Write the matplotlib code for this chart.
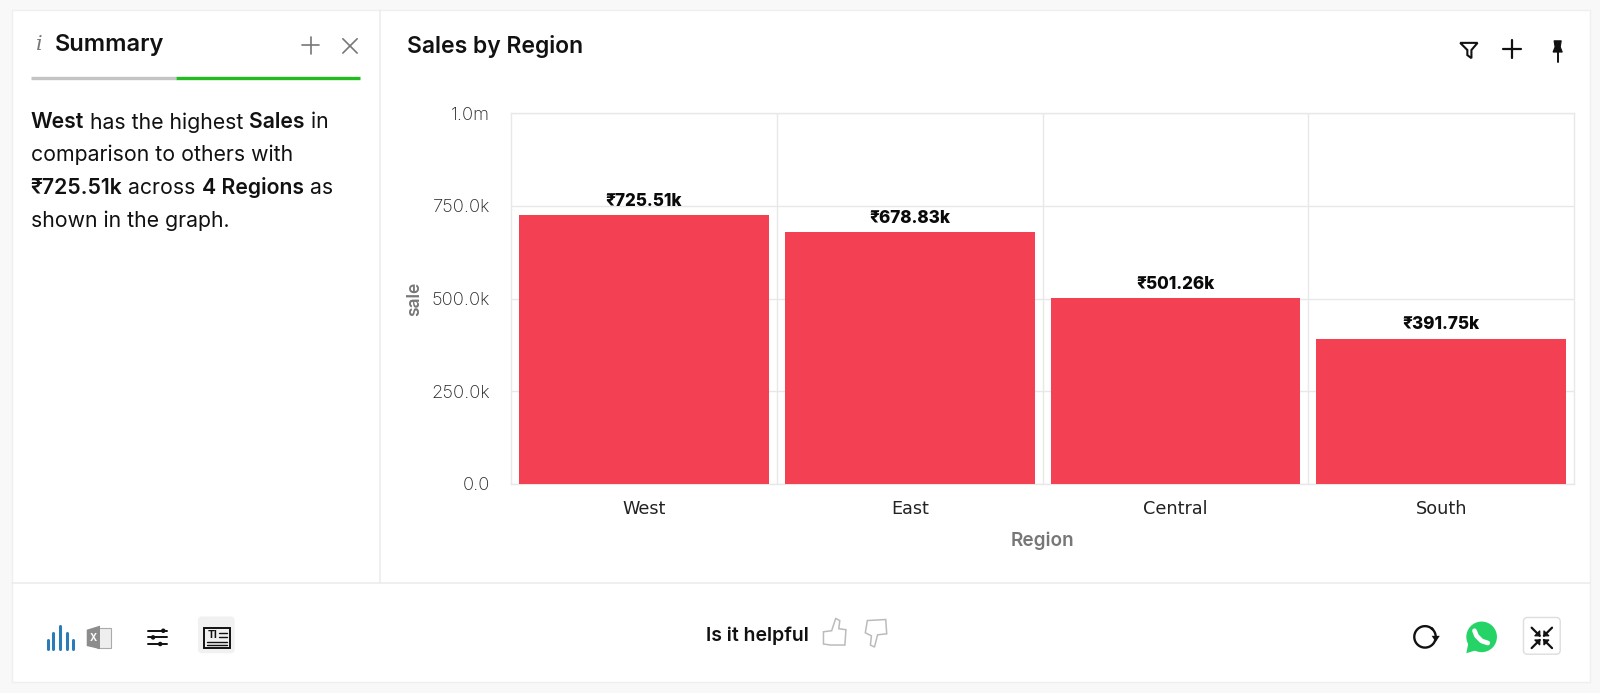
import numpy as np
import matplotlib
matplotlib.use("Agg")
import matplotlib.pyplot as plt
from matplotlib.patches import Rectangle, FancyBboxPatch, Circle, Polygon

plt.rcParams['font.family'] = ['Inter', 'Noto Sans', 'DejaVu Sans']

# layout numbers below were measured on a 1568x679 view of the 1600x693 picture
W, H = 1568, 679

regions = ["West", "East", "Central", "South"]
sales = [725510, 678830, 501260, 391750]
bar_labels = ["₹725.51k", "₹678.83k", "₹501.26k", "₹391.75k"]
y_ticks = [0, 250000, 500000, 750000, 1000000]
y_tick_labels = ["0.0", "250.0k", "500.0k", "750.0k", "1.0m"]

summary_lines = [
    [("West", True), (" has the highest ", False), ("Sales", True), (" in", False)],
    [("comparison to others with", False)],
    [("₹725.51k", True), (" across ", False), ("4 Regions", True), (" as", False)],
    [("shown in the graph.", False)],
]

BAR_RED = "#f34052"
GRID = "#e8e8e8"
DIVIDER = "#ececec"
INK = "#111111"


def draw_runs(ax, fig, x, y, runs, size):
    # mixed bold / regular text on one line
    rend = fig.canvas.get_renderer()
    for txt, bold in runs:
        t = ax.text(x, y, txt, fontsize=size, color=INK, va="center", ha="left",
                    fontweight="semibold" if bold else "normal")
        # spaces at the ends do not count in the extent, so measure with guards
        g = ax.text(0, 0, "|" + txt + "|", fontsize=size, fontweight=t.get_fontweight())
        g2 = ax.text(0, 0, "||", fontsize=size, fontweight=t.get_fontweight())
        x += (g.get_window_extent(rend).width - g2.get_window_extent(rend).width) * W / 1600
        g.remove()
        g2.remove()


def line(ax, xs, ys, color=INK, lw=1.5, **kw):
    ax.plot(xs, ys, color=color, lw=lw, solid_capstyle="round", **kw)


fig = plt.figure(figsize=(16, 6.93), dpi=100, facecolor="#f8f8f8")

# page layer in pixel coordinates
ui = fig.add_axes([0, 0, 1, 1])
ui.set_xlim(0, W)
ui.set_ylim(H, 0)
ui.axis("off")

ui.add_patch(Rectangle((12, 10), 1546, 658, fc="white", ec="#efefef", lw=1))
line(ui, [372.5, 372.5], [10, 571], color=DIVIDER, lw=1.2)
line(ui, [12, 1558], [571, 571], color=DIVIDER, lw=1.2)

# summary panel
ui.text(38, 44, "i", fontsize=15, color="#777777", style="italic", family="DejaVu Serif",
        ha="center", va="center")
ui.text(54, 44, "Summary", fontsize=17, fontweight="semibold", color=INK, va="center")
line(ui, [296, 313], [44, 44], color="#777777", lw=1.2)
line(ui, [304.5, 304.5], [36, 53], color="#777777", lw=1.2)
line(ui, [336, 350], [38, 52], color="#777777", lw=1.2)
line(ui, [336, 350], [52, 38], color="#777777", lw=1.2)
ui.plot([30.5, 172.5], [76.5, 76.5], color="#c4c4c4", lw=2.4, solid_capstyle="butt")
ui.plot([172.5, 353], [76.5, 76.5], color="#22bb22", lw=2.4, solid_capstyle="butt")

fig.canvas.draw()
for row, runs in enumerate(summary_lines):
    draw_runs(ui, fig, 30, 120 + row * 32, runs, 15.3)

# chart header
ui.text(398.5, 45.5, "Sales by Region", fontsize=16.5, fontweight="semibold", color=INK, va="center")
ui.add_patch(Polygon([(1431, 42), (1448, 42), (1442, 49), (1442, 57), (1438, 54), (1438, 49)],
                     closed=True, fc="white", ec=INK, lw=1.5))
line(ui, [1473, 1491], [48, 48], lw=1.6)
line(ui, [1482, 1482], [39, 57], lw=1.6)
ui.add_patch(Polygon([(1523, 40), (1530, 40), (1529, 46), (1531, 51), (1522, 51), (1524, 46)],
                     closed=True, fc=INK, ec=INK, lw=0.8))
line(ui, [1526.5, 1526.5], [51, 61], lw=1.4)

# footer left icons
for bx, top in zip([46.7, 52.3, 59, 65.3, 71.8], [627, 620, 613.5, 620, 627]):
    line(ui, [bx, bx], [top, 636], color="#2b7bb9", lw=2.2)
ui.add_patch(Rectangle((95, 615), 14, 20, fc="#eeeeee", ec="#aaaaaa", lw=0.8))
ui.add_patch(Polygon([(85, 617), (98, 613), (98, 636), (85, 633)], closed=True, fc="#8c8c8c", ec="none"))
ui.text(91.5, 625, "X", fontsize=7, color="white", fontweight="bold", ha="center", va="center")
for ly, dot in zip([618, 624.5, 631], [160, 150, 157]):
    line(ui, [145, 164], [ly, ly], lw=1.4)
    ui.add_patch(Circle((dot, ly), 2.2, fc=INK, ec="none"))
ui.add_patch(FancyBboxPatch((194, 604), 36, 36, boxstyle="round,pad=0,rounding_size=4",
                            fc="#f1f1f1", ec="none"))
ui.add_patch(Rectangle((200, 615), 25, 20, fc="none", ec=INK, lw=1.4))
ui.text(208, 622, "TI", fontsize=7.5, color=INK, fontweight="bold", ha="center", va="center")
for ly, x0 in [(620, 215), (624, 215), (629, 203), (632, 203)]:
    line(ui, [x0, 222], [ly, ly], lw=1)

# footer middle
ui.text(742, 623, "Is it helpful", fontsize=14, fontweight="semibold", color=INK, ha="center", va="center")
ui.add_patch(Polygon([(807, 619), (815, 618), (819, 606), (823, 608), (822, 616), (829, 617),
                      (828, 632), (814, 632), (807, 631)], closed=True, fc="white", ec="#bbbbbb", lw=1.1))
ui.add_patch(Polygon([(869, 621), (860, 622), (857, 634), (853, 632), (854, 623), (848, 620),
                      (850, 608), (868, 607)], closed=True, fc="white", ec="#bbbbbb", lw=1.1))

# footer right icons
theta = np.radians(np.linspace(-50, 310, 80))
ui.plot(1396.5 + 10.5 * np.cos(theta), 624 + 10.5 * np.sin(theta), color=INK, lw=1.7)
ui.add_patch(Polygon([(1403, 623), (1411, 623), (1407, 629)], closed=True, fc=INK, ec="none"))
ui.add_patch(Circle((1452, 624), 15, fc="#25d366", ec="none"))
ui.add_patch(Polygon([(1439, 630), (1437, 640), (1447, 637)], closed=True, fc="#25d366", ec="none"))
ui.plot([1445, 1447, 1452, 1458], [618, 623, 628, 630], color="white", lw=3.4, solid_capstyle="round")
ui.add_patch(FancyBboxPatch((1493, 605), 36, 36, boxstyle="round,pad=0,rounding_size=4",
                            fc="white", ec="#dddddd", lw=1))
for dx, dy in [(-1, -1), (1, -1), (-1, 1), (1, 1)]:
    cx, cy = 1511 + dx * 2, 625 + dy * 2
    line(ui, [cx, cx + dx * 8], [cy, cy + dy * 8], lw=1.6)
    ui.add_patch(Polygon([(cx, cy), (cx + dx * 5, cy), (cx, cy + dy * 5)], closed=True, fc=INK, ec=INK, lw=0.8))

# chart
ax = fig.add_axes([501 / W, 1 - 474 / H, (1542.5 - 501) / W, (474 - 111) / H])
ax.patch.set_alpha(0)
x_pos = list(range(len(regions)))
ax.bar(x_pos, sales, width=0.94, color=BAR_RED, zorder=3)
ax.set_xlim(-0.5, len(regions) - 0.5)
ax.set_ylim(0, 1000000)
ax.set_yticks(y_ticks)
ax.set_yticklabels(y_tick_labels, fontsize=13.2, color="#222222", fontweight="light")
ax.set_xticks(x_pos)
ax.set_xticklabels(regions, fontsize=12.7, color="#222222", family="DejaVu Sans")
ax.tick_params(axis="both", length=0)
ax.tick_params(axis="y", pad=15.4)
ax.tick_params(axis="x", pad=12)
ax.set_xticks([p + 0.5 for p in x_pos[:-1]], minor=True)
ax.tick_params(axis="x", which="minor", length=0)
ax.grid(True, axis="y", color=GRID, lw=1, zorder=0)
ax.grid(True, axis="x", which="minor", color=GRID, lw=1, zorder=0)
ax.grid(False, axis="x", which="major")
for s in ax.spines.values():
    s.set_color(GRID)
    s.set_linewidth(1)

for p, v, lab in zip(x_pos, sales, bar_labels):
    ax.annotate(lab, (p, v), xytext=(0, 3.8), textcoords="offset points", ha="center", va="bottom",
                fontsize=12.3, fontweight="heavy", color="#0a0a0a", zorder=4)

ui.text(406, 293, "sale", fontsize=12.5, fontweight="semibold", color="#777777", rotation=90,
        ha="center", va="center")
ui.text(1022, 529.5, "Region", fontsize=13.6, fontweight="semibold", color="#777777", ha="center", va="center")

fig.savefig("out.png", dpi=100, facecolor=fig.get_facecolor())
